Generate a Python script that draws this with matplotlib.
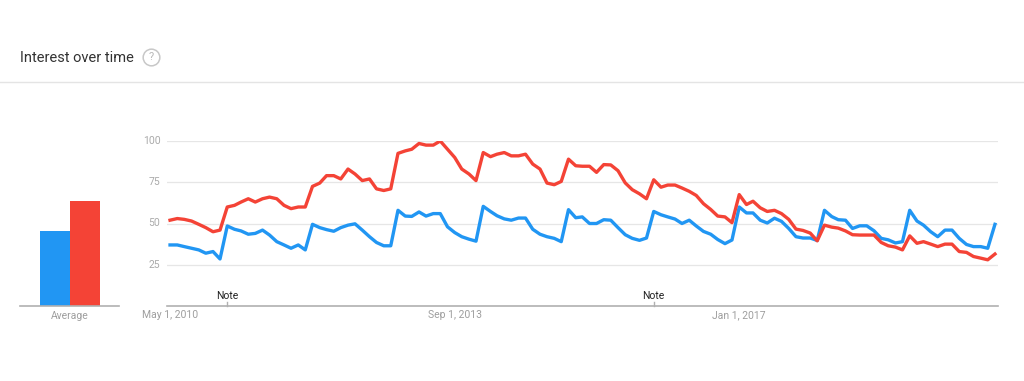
import matplotlib
matplotlib.use('Agg')
import matplotlib.pyplot as plt
from matplotlib.lines import Line2D
import pandas as pd

plt.rcParams['font.family'] = ['Roboto', 'DejaVu Sans']

# === 数据 ===
months = pd.date_range('2010-05-01', periods=117, freq='MS')

red = [52, 53, 52.5, 51.5, 49.5, 47.5, 45, 46,
       60, 61, 63, 65, 63, 65, 66, 65, 61, 59, 60, 60,
       72.5, 74.5, 79, 79, 77, 83, 80, 76, 77, 71, 70, 71,
       92.5, 94, 95, 98.5, 97.5, 97.5, 100, 95, 90, 83, 80, 76,
       93, 90.5, 92, 93, 91, 91, 92, 86, 83, 74.5, 73.5, 75.5,
       89, 85, 84.7, 84.7, 81, 85.7, 85.5, 82, 74.6, 70.5, 68, 65,
       76.5, 72, 73.3, 73.3, 71.5, 69.5, 67, 62, 58.5, 54.5, 54, 50.5,
       67.5, 61.5, 63.5, 59.5, 57.3, 58, 56, 52.5, 46.6, 45.8, 44.2, 39.5,
       49, 47.8, 47.2, 45.5, 43.2, 43, 43, 43, 38.5, 36.5, 35.7, 34,
       42.5, 38, 39, 37.5, 36, 37.5, 37.5, 33, 32.5, 30, 29, 28,
       31.5]

blue = [37, 37, 36, 35, 34, 32, 33, 28.5,
        48.5, 46.5, 45.5, 43.5, 44, 46, 43, 39, 37, 35, 37, 34,
        49.5, 47.5, 46.3, 45.3, 47.5, 49, 49.8, 46, 42, 38.5, 36.5, 36.5,
        58, 54.5, 54.3, 57, 54.5, 56, 56, 48, 44.5, 42, 40.5, 39.3,
        60.4, 57.3, 54.7, 52.8, 52, 53.3, 53.3, 46.5, 43.5, 42, 41, 39,
        58.4, 53.5, 54, 50, 50, 52.3, 52, 47.5, 43.2, 41, 39.8, 41.2,
        57.3, 55.3, 54, 52.7, 50, 52, 48.5, 45.2, 43.5, 40.3, 37.8, 40,
        60, 56.4, 56.4, 52, 50.3, 53.2, 51.3, 47, 42, 41.2, 41.2, 39.7,
        58, 54.2, 52.3, 52, 47, 48.6, 48.6, 45.6, 41, 40.1, 38.2, 39,
        58, 51.5, 49, 45, 42, 46, 46, 41, 37.3, 36, 36, 35,
        49.5]

avg_blue = 45.6
avg_red = 63.4

tick_dates = ['2010-05-01', '2013-09-01', '2017-01-01']
tick_labels = ['May 1, 2010', 'Sep 1, 2013', 'Jan 1, 2017']
note_dates = ['2011-01-01', '2016-01-01']

BLUE = '#2196f3'
RED = '#f44336'
W, H = 1024, 381

fig = plt.figure(figsize=(W / 100, H / 100), dpi=100)

# 标题
fig.text(20 / W, 1 - 58 / H, 'Interest over time', fontsize=10.5, color='#333333',
         va='center', ha='left')
fig.add_artist(Line2D([151 / W], [1 - 57 / H], transform=fig.transFigure, marker='o',
                      markersize=12, markerfacecolor='none', markeredgecolor='#c8c8c8',
                      markeredgewidth=1.1, linestyle='none'))
fig.text(151 / W, 1 - 57 / H, '?', fontsize=8, color='#b8b8b8', va='center', ha='center')
fig.add_artist(Line2D([0, 1], [1 - 82 / H, 1 - 82 / H], transform=fig.transFigure,
                      color='#e4e4e4', linewidth=1))

# === 平均值柱状图 ===
y0, y100 = 306, 141
bot = 1 - y0 / H
hgt = (y0 - y100) / H
axa = fig.add_axes([20 / W, bot, 99 / W, hgt])
axa.bar([0, 1], [avg_blue, avg_red], width=1, color=[BLUE, RED], align='edge')
axa.set_xlim(-0.65, 2.65)
axa.set_ylim(0, 100)
axa.axis('off')
axa.axhline(0, color='#b0b0b0', linewidth=1.2, clip_on=False)
axa.text(1, -3, 'Average', ha='center', va='top', fontsize=7.5, color='#9e9e9e')

# === 趋势线 ===
ax = fig.add_axes([167 / W, bot, 831 / W, hgt])
ax.plot(months, blue, color=BLUE, linewidth=2.4, solid_joinstyle='round')
ax.plot(months, red, color=RED, linewidth=2.4, solid_joinstyle='round')
ax.set_ylim(0, 100)
ax.set_xlim(months[0] - pd.Timedelta(days=13), months[-1] + pd.Timedelta(days=13))
for v in [25, 50, 75, 100]:
    ax.axhline(v, color='#e6e6e6', linewidth=0.9, zorder=0)
    ax.text(-0.008, v, str(v), transform=ax.get_yaxis_transform(), ha='right',
            va='center', fontsize=7.5, color='#aaaaaa')
ax.axhline(0, color='#b0b0b0', linewidth=1.2, clip_on=False)
for s in ax.spines.values():
    s.set_visible(False)
ax.set_yticks([])
ax.set_xticks(pd.to_datetime(tick_dates))
ax.set_xticklabels(tick_labels, fontsize=7.5, color='#9e9e9e')
ax.tick_params(axis='x', length=0, pad=3)
for d in pd.to_datetime(note_dates):
    ax.plot([d, d], [0, 2.5], color='#b0b0b0', linewidth=1, clip_on=False)
    ax.text(d, 2.8, 'Note', ha='center', va='bottom', fontsize=7.5, color='#222222')

plt.savefig('out.png', dpi=100)
plt.close()
